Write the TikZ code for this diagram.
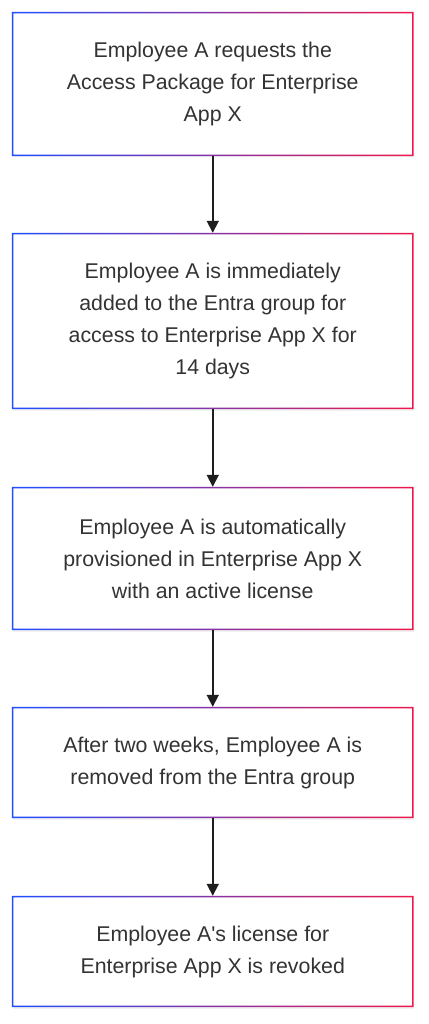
\documentclass[tikz,border=0pt]{standalone}
\usepackage{fontspec}
\setmainfont{Liberation Sans}
\usetikzlibrary{arrows.meta,shadows}
\definecolor{bblue}{HTML}{1F4FFF}
\definecolor{bred}{HTML}{F0184A}
\definecolor{txt}{HTML}{333333}
\definecolor{arr}{HTML}{1E1E1E}
\tikzset{
  stepbox/.style={fill=white, minimum width=401.5pt, inner sep=0pt, align=center,
    text=txt, font=\fontsize{21.33}{32}\selectfont,
    drop shadow={opacity=0.10, shadow xshift=0.5pt, shadow yshift=-1.5pt}},
  flow/.style={draw=arr, line width=1.8pt, -{Triangle[width=12pt,length=12pt]}},
  gradline/.style={left color=bblue, right color=bred, even odd rule}
}
\newcommand\gradborder[1]{%
  \shade[gradline] (#1.south west) rectangle (#1.north east)
    ([shift={(1.6pt,1.6pt)}]#1.south west) rectangle ([shift={(-1.6pt,-1.6pt)}]#1.north east);}
\begin{document}
\begin{tikzpicture}
\useasboundingbox[fill=white] (0,0) rectangle (428pt,-1024pt);
\node[stepbox, minimum height=144pt] (b1) at (212.75pt,-84pt)
  {Employee A requests the\\Access Package for Enterprise\\App X};
\node[stepbox, minimum height=176pt] (b2) at (212.75pt,-321pt)
  {Employee A is immediately\\added to the Entra group for\\access to Enterprise App X for\\14 days};
\node[stepbox, minimum height=143pt] (b3) at (212.75pt,-558.5pt)
  {Employee A is automatically\\provisioned in Enterprise App X\\with an active license};
\node[stepbox, minimum height=111pt] (b4) at (212.75pt,-762.5pt)
  {After two weeks, Employee A is\\removed from the Entra group};
\node[stepbox, minimum height=111pt] (b5) at (212.75pt,-951.5pt)
  {Employee A\textquotesingle s license for\\Enterprise App X is revoked};
\gradborder{b1}
\gradborder{b2}
\gradborder{b3}
\gradborder{b4}
\gradborder{b5}
\draw[flow] (b1.south) -- (b2.north);
\draw[flow] (b2.south) -- (b3.north);
\draw[flow] (b3.south) -- (b4.north);
\draw[flow] (b4.south) -- (b5.north);
\end{tikzpicture}
\end{document}
